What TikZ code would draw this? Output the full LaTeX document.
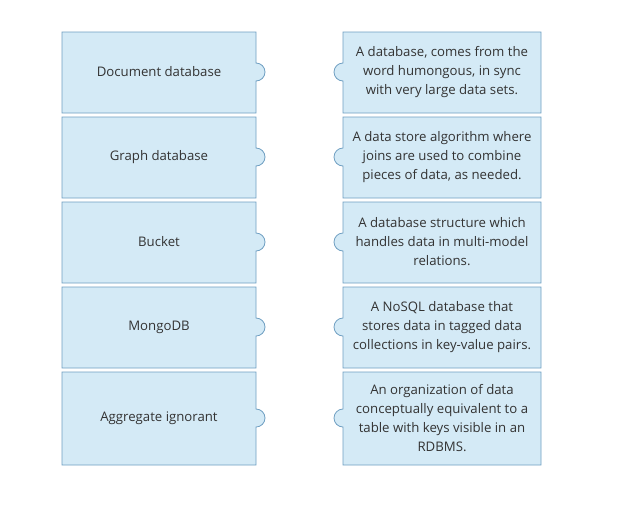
\documentclass[tikz,border=0pt]{standalone}
\usepackage{fontspec}
\setmainfont{Open Sans}
\begin{document}
\begin{tikzpicture}[x=1pt,y=1pt,
  box/.style={draw=boxline,fill=boxfill,line width=0.8pt},
  lbl/.style={align=center,font=\fontsize{13.2}{19}\selectfont,text=textgray}]
\definecolor{boxfill}{HTML}{D4EAF6}
\definecolor{boxline}{HTML}{6F9FC2}
\definecolor{textgray}{HTML}{333333}
\useasboundingbox[fill=white] (0,0) rectangle (636,-515);
\foreach \t/\b/\c [count=\i] in {32/113/72, 117/198/157, 202/283/242, 287/368/327, 372/465/418}{
  \draw[box] (62,-\t) -- (256,-\t) -- (256,-\c+9) arc(90:-90:9) -- (256,-\b) -- (62,-\b) -- cycle;
  \draw[box] (343,-\t) -- (541,-\t) -- (541,-\b) -- (343,-\b) -- (343,-\c-9) arc(-90:-270:9) -- cycle;
  \coordinate (L\i) at (159,-\c);
  \coordinate (R\i) at (442,-\c);
}
\node[lbl] (l1) at (L1) {Document database};
\node[lbl] (l2) at (L2) {Graph database};
\node[lbl] (l3) at (L3) {Bucket};
\node[lbl] (l4) at (L4) {MongoDB};
\node[lbl] (l5) at (L5) {Aggregate ignorant};
\node[lbl] (r1) at (R1) {A database, comes from the\\word humongous, in sync\\with very large data sets.};
\node[lbl] (r2) at (R2) {A data store algorithm where\\joins are used to combine\\pieces of data, as needed.};
\node[lbl] (r3) at (R3) {A database structure which\\handles data in multi-model\\relations.};
\node[lbl] (r4) at (R4) {A NoSQL database that\\stores data in tagged data\\collections in key-value pairs.};
\node[lbl] (r5) at (R5) {An organization of data\\conceptually equivalent to a\\table with keys visible in an\\RDBMS.};
\end{tikzpicture}
\end{document}
